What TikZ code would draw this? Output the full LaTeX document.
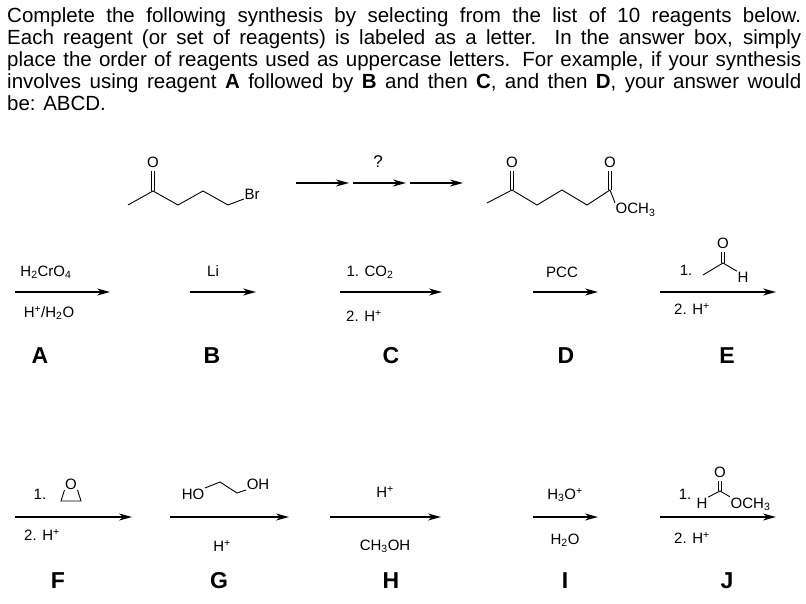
\documentclass[tikz,border=0pt]{standalone}
\usepackage{fontspec}
\setmainfont{Liberation Sans}
\usetikzlibrary{arrows.meta}
\newcommand{\sbx}[1]{\textsubscript{#1}}
\newcommand{\spx}[1]{\textsuperscript{#1}}
\begin{document}
\begin{tikzpicture}[x=1pt,y=-1pt,
  rx/.style={-{Stealth[length=13,width=7]},line width=1.4},
  bd/.style={line width=0.9},
  lab/.style={font=\fontsize{15}{17}\selectfont,inner sep=1},
  letter/.style={font=\fontsize{23}{26}\selectfont\bfseries},
  atom/.style={font=\fontsize{15}{17}\selectfont,inner sep=0.5}]
\useasboundingbox (0,0) rectangle (806,604);
\node[anchor=north west,text width=794,align=justify,inner sep=0,font=\fontsize{20.5}{22}\selectfont] (hdr) at (7,7)
{Complete the following synthesis by selecting from the list of 10 reagents below.\linebreak Each reagent (or set of reagents) is labeled as a letter. In the answer box, simply\linebreak place the order of reagents used as uppercase letters. For example, if your synthesis\linebreak involves using reagent \textbf{A} followed by \textbf{B} and then \textbf{C}, and then \textbf{D}, your answer would\linebreak be: ABCD.};
% starting material
\node[atom] (o1) at (153,162) {O};
\node[atom] (br) at (252,194) {Br};
\draw[bd] (128,205)--(153,191)--(178,205)--(203,191)--(228,205)--(br.west|-0,199);
\draw[bd] (151.5,191)--(151.5,171) (154.5,191)--(154.5,171);
% arrows
\coordinate (a1) at (296,183); \coordinate (a2) at (349,183);
\coordinate (a3) at (353,183); \coordinate (a4) at (406,183);
\coordinate (a5) at (410,183); \coordinate (a6) at (463,183);
\draw[rx] (a1)--(a2); \draw[rx] (a3)--(a4); \draw[rx] (a5)--(a6);
\node[font=\fontsize{17}{19}\selectfont] (q) at (378,162) {?};
% product
\node[atom] (o2) at (512,162) {O};
\node[atom] (o3) at (610,162) {O};
\node[atom,anchor=west] (och) at (615,210) {OCH\sbx{3}};
\draw[bd] (487,203)--(512,190)--(537,205)--(562,190)--(587,205)--(610,190)--(och.north west);
\draw[bd] (510.5,190)--(510.5,171) (513.5,190)--(513.5,171);
\draw[bd] (608.5,190)--(608.5,171) (611.5,190)--(611.5,171);
% row 1
\draw[rx] (15,292)--(110,292);
\node[lab] (la1) at (46,272) {H\sbx{2}CrO\sbx{4}};
\node[lab] (la2) at (49,313) {H\spx{+}/H\sbx{2}O};
\node[letter] (A) at (40,356) {A};
\draw[rx] (190,292)--(256,292);
\node[lab] (lb) at (213,271) {Li};
\node[letter] (B) at (212,356) {B};
\draw[rx] (340,292)--(442,292);
\node[lab] (lc1) at (370,272) {1. CO\sbx{2}};
\node[lab] (lc2) at (364,316) {2. H\spx{+}};
\node[letter] (C) at (391,356) {C};
\draw[rx] (533,292)--(598,292);
\node[lab] (ld) at (562,272) {PCC};
\node[letter] (D) at (566,356) {D};
\draw[rx] (660,292)--(776,292);
\node[lab] (le1) at (686,270) {1.};
\node[atom] (oe) at (723,243) {O};
\node[atom] (he) at (743,277) {H};
\draw[bd] (703,275)--(723,263)--(he.north west);
\draw[bd] (721.5,263)--(721.5,252) (724.5,263)--(724.5,252);
\node[lab] (le2) at (692,309) {2. H\spx{+}};
\node[letter] (E) at (727,356) {E};
% row 2
\draw[rx] (15,517)--(132,517);
\node[lab] (lf1) at (40,494) {1.};
\node[atom] (of) at (71,484) {O};
\draw[bd] (of.south west)--(61,501)--(81,501)--(of.south east);
\node[lab] (lf2) at (42,535) {2. H\spx{+}};
\node[letter] (F) at (58,581) {F};
\draw[rx] (170,517)--(289,517);
\node[atom] (ho) at (193,494) {HO};
\node[atom] (oh) at (258,484) {OH};
\draw[bd] (ho.north east)--(220,482)--(237,493)--(oh.south west);
\node[lab] (lg) at (222,546) {H\spx{+}};
\node[letter] (G) at (219,581) {G};
\draw[rx] (330,517)--(441,517);
\node[lab] (lh1) at (385,492) {H\spx{+}};
\node[lab] (lh2) at (385,546) {CH\sbx{3}OH};
\node[letter] (H) at (391,581) {H};
\draw[rx] (533,517)--(598,517);
\node[lab] (li1) at (565,495) {H\sbx{3}O\spx{+}};
\node[lab] (li2) at (565,540) {H\sbx{2}O};
\node[letter] (I) at (565,581) {I};
\draw[rx] (660,517)--(776,517);
\node[lab] (lj1) at (685,494) {1.};
\node[atom] (hj) at (702,503) {H};
\node[atom] (oj) at (720,472) {O};
\node[atom,anchor=west] (ocj) at (730,504) {OCH\sbx{3}};
\draw[bd] (hj.north east)--(720,491)--(ocj.north west);
\draw[bd] (718.5,491)--(718.5,481) (721.5,491)--(721.5,481);
\node[lab] (lj2) at (692,538) {2. H\spx{+}};
\node[letter] (J) at (727,581) {J};
\end{tikzpicture}
\end{document}
